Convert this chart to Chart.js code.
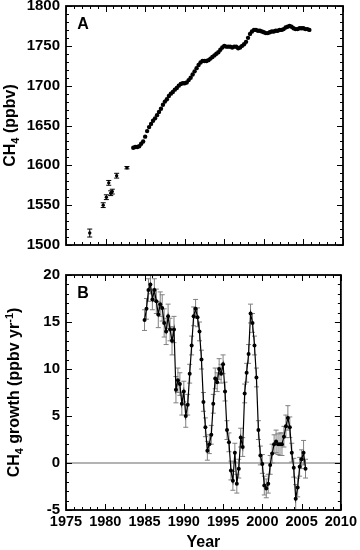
<!DOCTYPE html>
<html>
<head>
<meta charset="utf-8">
<script src="https://cdn.jsdelivr.net/npm/chart.js@4.4.1/dist/chart.umd.min.js"></script>
<style>
  html, body { margin: 0; padding: 0; background: #fff; overflow: hidden; }
  #wrap { position: relative; width: 360px; height: 550px; overflow: hidden; }
  canvas { position: absolute; left: 0; }
  #topChart { top: -10px; }
  #botChart { top: 260px; }
</style>
</head>
<body>
<div id="wrap">
  <canvas id="topChart" width="360" height="270"></canvas>
  <canvas id="botChart" width="360" height="290"></canvas>
</div>
<script>
// panel A: early flask measurements
const earlyYears = [1978.0, 1979.7, 1980.1, 1980.4, 1980.65, 1980.85, 1981.4, 1982.7];
const earlyCH4   = [1515, 1550, 1560, 1578, 1565, 1567, 1587, 1597];
const earlyErr   = [5, 3, 3, 3, 3, 3, 3, 1.5];

// panel A: quarterly global mean CH4 (ppbv)
const ch4Years = [
  1983.5, 1983.75,
  1984, 1984.25, 1984.5, 1984.75,
  1985, 1985.25, 1985.5, 1985.75,
  1986, 1986.25, 1986.5, 1986.75,
  1987, 1987.25, 1987.5, 1987.75,
  1988, 1988.25, 1988.5, 1988.75,
  1989, 1989.25, 1989.5, 1989.75,
  1990, 1990.25, 1990.5, 1990.75,
  1991, 1991.25, 1991.5, 1991.75,
  1992, 1992.25, 1992.5, 1992.75,
  1993, 1993.25, 1993.5, 1993.75,
  1994, 1994.25, 1994.5, 1994.75,
  1995, 1995.25, 1995.5, 1995.75,
  1996, 1996.25, 1996.5, 1996.75,
  1997, 1997.25, 1997.5, 1997.75,
  1998, 1998.25, 1998.5, 1998.75,
  1999, 1999.25, 1999.5, 1999.75,
  2000, 2000.25, 2000.5, 2000.75,
  2001, 2001.25, 2001.5, 2001.75,
  2002, 2002.25, 2002.5, 2002.75,
  2003, 2003.25, 2003.5, 2003.75,
  2004, 2004.25, 2004.5, 2004.75,
  2005, 2005.25, 2005.5, 2005.75
];
const ch4Values = [
  1622, 1623,
  1623, 1624, 1627, 1630,
  1636, 1643, 1648, 1652,
  1656, 1659, 1663, 1667,
  1671, 1676, 1680, 1683,
  1687, 1690, 1692, 1695,
  1697, 1700, 1702, 1703,
  1703, 1704, 1707, 1710,
  1714, 1718, 1722, 1726,
  1729, 1731, 1731, 1731,
  1732, 1734, 1736, 1738,
  1740, 1742, 1745, 1748,
  1750, 1749, 1749, 1749,
  1748, 1749, 1749, 1747,
  1748, 1750, 1752, 1755,
  1760, 1765, 1768, 1770,
  1770, 1769, 1769, 1768,
  1767, 1766, 1766, 1767,
  1768, 1768, 1769, 1769,
  1770, 1770, 1771, 1773,
  1774, 1775, 1774, 1772,
  1771, 1771, 1772, 1772,
  1772, 1771, 1771, 1770
];

// panel B: growth rate (ppbv/yr)
const growthYears = [
  1985, 1985.25, 1985.5, 1985.75,
  1986, 1986.25, 1986.5, 1986.75,
  1987, 1987.25, 1987.5, 1987.75,
  1988, 1988.25, 1988.5, 1988.75,
  1989, 1989.25, 1989.5, 1989.75,
  1990, 1990.25, 1990.5, 1990.75,
  1991, 1991.25, 1991.5, 1991.75,
  1992, 1992.25, 1992.5, 1992.75,
  1993, 1993.25, 1993.5, 1993.75,
  1994, 1994.25, 1994.5, 1994.75,
  1995, 1995.25, 1995.5, 1995.75,
  1996, 1996.25, 1996.5, 1996.75,
  1997, 1997.25, 1997.5, 1997.75,
  1998, 1998.25, 1998.5, 1998.75,
  1999, 1999.25, 1999.5, 1999.75,
  2000, 2000.25, 2000.5, 2000.75,
  2001, 2001.25, 2001.5, 2001.75,
  2002, 2002.25, 2002.5, 2002.75,
  2003, 2003.25, 2003.5, 2003.75,
  2004, 2004.25, 2004.5, 2004.75,
  2005, 2005.25, 2005.5
];
const growthValues = [
  15.2, 16.4, 18.4, 19.0,
  17.4, 18.4, 17.2, 15.8,
  16.9, 16.5, 14.9, 14.0,
  15.6, 14.2, 13.0, 14.2,
  7.8, 8.8, 8.4, 6.3,
  7.6, 5.0, 6.2, 9.5,
  12.5, 15.6, 16.4, 15.5,
  14.0, 11.0, 6.5, 3.8,
  1.3, 2.0, 3.0, 6.3,
  9.0, 8.6, 10.0, 9.5,
  10.5, 7.6, 3.5, 2.2,
  -0.8, -1.9, 1.1, -2.2,
  -0.6, 2.7, 1.7, 7.4,
  9.6, 11.6, 15.9, 14.9,
  12.5, 9.1, 3.5, 0.8,
  -0.1, -2.4, -2.7, -2.2,
  -0.2, 1.0, 2.0, 2.3,
  2.0, 2.0, 2.0, 2.8,
  3.9, 4.8, 3.8, 1.1,
  -0.5, -3.8, -2.6, -0.4,
  0.4, 1.1, -0.6
];
const growthErr = [
  1.1, 1.1, 1.2, 1.0,
  1.1, 1.2, 1.3, 1.4,
  1.3, 1.4, 1.5, 1.4,
  1.3, 1.2, 1.5, 1.4,
  1.4, 1.3, 1.2, 1.2,
  1.1, 1.2, 1.1, 1.0,
  1.0, 1.0, 1.0, 1.0,
  1.0, 1.0, 1.0, 1.0,
  1.0, 1.0, 1.0, 1.0,
  1.1, 1.0, 1.1, 1.0,
  1.0, 1.0, 1.0, 1.0,
  1.0, 1.0, 1.0, 1.0,
  1.0, 1.0, 1.0, 1.0,
  1.0, 1.0, 1.0, 1.0,
  1.0, 1.0, 1.0, 1.0,
  1.0, 1.0, 1.0, 1.0,
  1.0, 1.0, 1.0, 1.2,
  1.1, 1.2, 1.2, 1.1,
  1.2, 1.3, 1.1, 1.0,
  1.0, 1.5, 1.0, 1.0,
  1.0, 1.3, 1.0
];

const FONT = '"Liberation Sans", Arial, Helvetica, sans-serif';

function pts(xs, ys) {
  return xs.map((x, i) => ({ x: x, y: ys[i] }));
}

// draws a bold label made of pieces (for sub/superscripts)
function drawRich(ctx, parts, cx, cy, rotate) {
  ctx.save();
  ctx.translate(cx, cy);
  if (rotate) ctx.rotate(-Math.PI / 2);
  let total = 0;
  parts.forEach(p => {
    ctx.font = 'bold ' + p.size + 'px ' + FONT;
    p.w = ctx.measureText(p.t).width;
    total += p.w;
  });
  let xx = -total / 2;
  ctx.fillStyle = '#000';
  ctx.textAlign = 'left';
  ctx.textBaseline = 'middle';
  parts.forEach(p => {
    ctx.font = 'bold ' + p.size + 'px ' + FONT;
    ctx.fillText(p.t, xx, p.dy || 0);
    xx += p.w;
  });
  ctx.restore();
}

// error bars, zero line, inward ticks, box, titles
const decor = {
  id: 'decor',
  beforeDatasetsDraw(chart, args, o) {
    const { ctx, chartArea: a, scales: { x, y } } = chart;
    ctx.save();
    ctx.beginPath();
    ctx.rect(a.left, a.top, a.right - a.left, a.bottom - a.top);
    ctx.clip();
    if (o.zeroLine) {
      const py = y.getPixelForValue(0);
      ctx.strokeStyle = '#9a9a9a';
      ctx.lineWidth = 1.5;
      ctx.beginPath();
      ctx.moveTo(a.left, py);
      ctx.lineTo(a.right, py);
      ctx.stroke();
    }
    chart.data.datasets.forEach((ds, i) => {
      if (!ds.errors) return;
      const meta = chart.getDatasetMeta(i);
      ctx.strokeStyle = ds.errorColor;
      ctx.lineWidth = 1;
      ctx.beginPath();
      meta.data.forEach((el, j) => {
        const v = ds.data[j].y, e = ds.errors[j];
        const px = el.x;
        const y1 = y.getPixelForValue(v + e), y2 = y.getPixelForValue(v - e);
        ctx.moveTo(px, y1); ctx.lineTo(px, y2);
        ctx.moveTo(px - 2.5, y1); ctx.lineTo(px + 2.5, y1);
        ctx.moveTo(px - 2.5, y2); ctx.lineTo(px + 2.5, y2);
      });
      ctx.stroke();
    });
    ctx.restore();
  },
  afterDraw(chart, args, o) {
    const { ctx, chartArea: a, scales: { x, y } } = chart;
    ctx.save();
    ctx.strokeStyle = '#000';
    ctx.lineWidth = 1;
    ctx.beginPath();
    for (let v = x.min; v <= x.max + 1e-6; v += o.xMinor) {
      const px = Math.round(x.getPixelForValue(v)) + 0.5;
      const len = Math.abs((v - x.min) % o.xMajor) < 1e-6 ? 6 : 3;
      ctx.moveTo(px, a.bottom); ctx.lineTo(px, a.bottom - len);
      ctx.moveTo(px, a.top); ctx.lineTo(px, a.top + len);
    }
    for (let v = y.min; v <= y.max + 1e-6; v += o.yMinor) {
      const py = Math.round(y.getPixelForValue(v)) + 0.5;
      const len = Math.abs((v - y.min) % o.yMajor) < 1e-6 ? 6 : 3;
      ctx.moveTo(a.left, py); ctx.lineTo(a.left + len, py);
      ctx.moveTo(a.right, py); ctx.lineTo(a.right - len, py);
    }
    ctx.stroke();
    ctx.lineWidth = 1.8;
    ctx.strokeRect(a.left, a.top, a.right - a.left, a.bottom - a.top);
    ctx.restore();

    ctx.save();
    ctx.fillStyle = '#000';
    ctx.font = 'bold 16px ' + FONT;
    ctx.textAlign = 'center';
    ctx.textBaseline = 'middle';
    ctx.fillText(o.letter, a.left + 17, a.top + 19);
    ctx.restore();

    drawRich(ctx, o.yTitle, o.yTitleX, (a.top + a.bottom) / 2, true);
    if (o.xTitle) {
      drawRich(ctx, [{ t: o.xTitle, size: 16 }], (a.left + a.right) / 2, o.xTitleY, false);
    }
  }
};

function options(yMin, yMax, yStep, showX, decorOpts, padTop, xHeight) {
  return {
    responsive: false,
    animation: false,
    devicePixelRatio: 1,
    layout: { padding: { top: padTop, right: 17, left: 0, bottom: 0 } },
    plugins: {
      legend: { display: false },
      tooltip: { enabled: false },
      decor: decorOpts
    },
    scales: {
      x: {
        type: 'linear',
        min: 1975, max: 2010,
        grid: { display: false, drawTicks: false },
        border: { display: false },
        ticks: {
          display: showX,
          stepSize: 5,
          padding: 3,
          color: '#000',
          font: { family: FONT, size: 14.5, weight: 'bold' },
          maxRotation: 0,
          callback: v => String(v)
        },
        afterFit: s => { s.height = xHeight; }
      },
      y: {
        min: yMin, max: yMax,
        grid: { display: false, drawTicks: false },
        border: { display: false },
        ticks: {
          stepSize: yStep,
          padding: 6,
          color: '#000',
          font: { family: FONT, size: 15, weight: 'bold' },
          callback: v => String(v)
        },
        afterFit: s => { s.width = 66; }
      }
    }
  };
}

new Chart(document.getElementById('topChart'), {
  type: 'scatter',
  data: {
    datasets: [
      {
        data: pts(earlyYears, earlyCH4),
        errors: earlyErr,
        errorColor: '#000',
        pointRadius: 1.7,
        pointBackgroundColor: '#000',
        pointBorderWidth: 0
      },
      {
        data: pts(ch4Years, ch4Values),
        pointRadius: 2.2,
        pointBackgroundColor: '#000',
        pointBorderWidth: 0
      }
    ]
  },
  options: options(1500, 1800, 50, false, {
    xMinor: 1, xMajor: 5, yMinor: 10, yMajor: 50,
    letter: 'A',
    yTitle: [{ t: 'CH', size: 16 }, { t: '4', size: 11, dy: 5 }, { t: ' (ppbv)', size: 16 }],
    yTitleX: 11
  }, 16, 14),
  plugins: [decor]
});

new Chart(document.getElementById('botChart'), {
  type: 'scatter',
  data: {
    datasets: [
      {
        data: pts(growthYears, growthValues),
        errors: growthErr,
        errorColor: '#808080',
        showLine: true,
        borderColor: '#000',
        borderWidth: 1.2,
        pointRadius: 2,
        pointBackgroundColor: '#000',
        pointBorderWidth: 0
      }
    ]
  },
  options: options(-5, 20, 5, true, {
    xMinor: 1, xMajor: 5, yMinor: 1, yMajor: 5,
    letter: 'B',
    zeroLine: true,
    yTitle: [
      { t: 'CH', size: 16 }, { t: '4', size: 11, dy: 5 },
      { t: ' growth (ppbv yr', size: 16 }, { t: '-1', size: 11, dy: -5 },
      { t: ')', size: 16 }
    ],
    yTitleX: 15,
    xTitle: 'Year',
    xTitleY: 283
  }, 11, 40),
  plugins: [decor]
});
</script>
</body>
</html>
